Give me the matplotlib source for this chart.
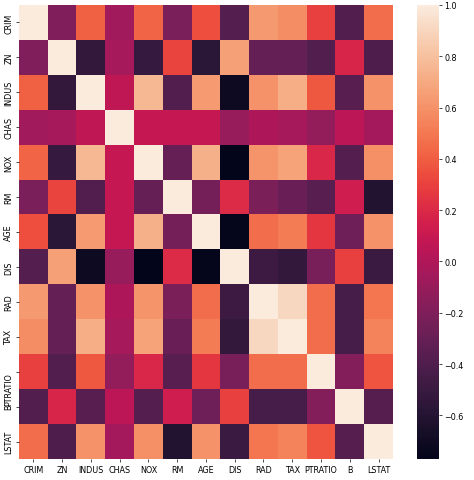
import numpy as np
import pandas as pd
import matplotlib
matplotlib.use('Agg')
import matplotlib.pyplot as plt
import seaborn as sns

cols = ['CRIM', 'ZN', 'INDUS', 'CHAS', 'NOX', 'RM', 'AGE', 'DIS', 'RAD', 'TAX', 'PTRATIO', 'B', 'LSTAT']

# correlation rows (boston housing)
crim    = [1.00, -0.20, 0.41, -0.06, 0.42, -0.22, 0.35, -0.38, 0.63, 0.58, 0.29, -0.39, 0.46]
zn      = [-0.20, 1.00, -0.53, -0.04, -0.52, 0.31, -0.57, 0.66, -0.31, -0.31, -0.39, 0.18, -0.41]
indus   = [0.41, -0.53, 1.00, 0.06, 0.76, -0.39, 0.64, -0.71, 0.60, 0.72, 0.38, -0.36, 0.60]
chas    = [-0.06, -0.04, 0.06, 1.00, 0.09, 0.09, 0.09, -0.10, -0.01, -0.04, -0.12, 0.05, -0.05]
nox     = [0.42, -0.52, 0.76, 0.09, 1.00, -0.30, 0.73, -0.77, 0.61, 0.67, 0.19, -0.38, 0.59]
rm      = [-0.22, 0.31, -0.39, 0.09, -0.30, 1.00, -0.24, 0.21, -0.21, -0.29, -0.36, 0.13, -0.61]
age     = [0.35, -0.57, 0.64, 0.09, 0.73, -0.24, 1.00, -0.75, 0.46, 0.51, 0.26, -0.27, 0.60]
dis     = [-0.38, 0.66, -0.71, -0.10, -0.77, 0.21, -0.75, 1.00, -0.49, -0.53, -0.23, 0.29, -0.50]
rad     = [0.63, -0.31, 0.60, -0.01, 0.61, -0.21, 0.46, -0.49, 1.00, 0.91, 0.46, -0.44, 0.49]
tax     = [0.58, -0.31, 0.72, -0.04, 0.67, -0.29, 0.51, -0.53, 0.91, 1.00, 0.46, -0.44, 0.54]
ptratio = [0.29, -0.39, 0.38, -0.12, 0.19, -0.36, 0.26, -0.23, 0.46, 0.46, 1.00, -0.18, 0.37]
b       = [-0.39, 0.18, -0.36, 0.05, -0.38, 0.13, -0.27, 0.29, -0.44, -0.44, -0.18, 1.00, -0.37]
lstat   = [0.46, -0.41, 0.60, -0.05, 0.59, -0.61, 0.60, -0.50, 0.49, 0.54, 0.37, -0.37, 1.00]

corr = pd.DataFrame([crim, zn, indus, chas, nox, rm, age, dis, rad, tax, ptratio, b, lstat],
                    index=cols, columns=cols)

fs = 5.8
fig = plt.figure(figsize=(4.74, 4.81), dpi=100)
ax = fig.add_axes([0.040, 0.0437, 0.789, 0.944])
cax = fig.add_axes([0.880, 0.0437, 0.046, 0.944])
sns.heatmap(corr, ax=ax, cbar_ax=cax)
ax.set_xticklabels(cols, rotation=0)
ax.set_yticklabels(cols, rotation=90, va='center')
# in the original the PTRATIO label hangs down from its tick into the B label
ax.get_yticklabels()[cols.index('PTRATIO')].set_va('top')
ax.tick_params(labelsize=fs, length=2, width=0.5, pad=2)
cax.tick_params(labelsize=fs, length=2, width=0.5, pad=2)
fig.savefig('out.png', dpi=100)
